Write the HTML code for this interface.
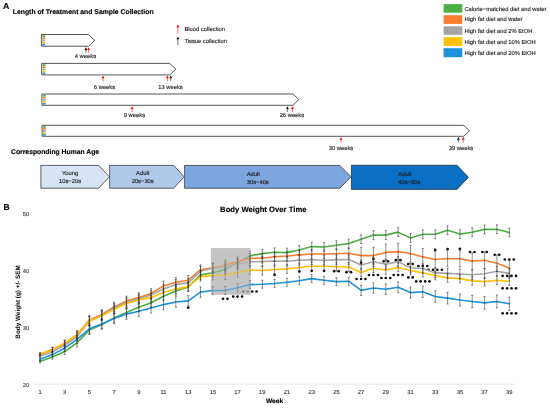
<!DOCTYPE html>
<html><head><meta charset="utf-8"><title>Figure</title>
<style>html,body{margin:0;padding:0;background:#fff;}body{width:550px;height:408px;overflow:hidden;}svg{display:block;}</style>
</head><body>
<svg width="550" height="408" viewBox="0 0 550 408" font-family='"Liberation Sans", sans-serif' text-rendering="geometricPrecision">
<rect width="550" height="408" fill="#fff"/>
<text x="3.1" y="8.6" font-size="8.8" font-weight="bold" text-anchor="start" fill="#000" stroke="#000" stroke-width="0.15" >A</text>
<text x="12.8" y="14.0" font-size="6.83" font-weight="bold" text-anchor="start" fill="#000" stroke="#000" stroke-width="0.15" >Length of Treatment and Sample Collection</text>
<text x="11" y="153.8" font-size="6.8" font-weight="bold" text-anchor="start" fill="#000" stroke="#000" stroke-width="0.15" >Corresponding Human Age</text>
<text x="3.4" y="209.6" font-size="8.6" font-weight="bold" text-anchor="start" fill="#000" stroke="#000" stroke-width="0.15" >B</text>
<text x="263.3" y="212.3" font-size="7.7" font-weight="bold" text-anchor="middle" fill="#000" stroke="#000" stroke-width="0.15" >Body Weight Over Time</text>
<rect x="443.6" y="4.1" width="18.7" height="8.6" fill="#4CAF43"/>
<text x="464.4" y="10.5" font-size="5.8" font-weight="normal" text-anchor="start" fill="#1a1a1a" stroke="#1a1a1a" stroke-width="0.13" >Calorie−matched diet and water</text>
<rect x="443.6" y="15.2" width="18.7" height="8.7" fill="#FB7D2E"/>
<text x="464.4" y="21.1" font-size="5.8" font-weight="normal" text-anchor="start" fill="#1a1a1a" stroke="#1a1a1a" stroke-width="0.13" >High fat diet and water</text>
<rect x="443.6" y="26.3" width="18.7" height="8.5" fill="#A5A5A5"/>
<text x="464.4" y="33" font-size="5.8" font-weight="normal" text-anchor="start" fill="#1a1a1a" stroke="#1a1a1a" stroke-width="0.13" >High fat diet and 2% EtOH</text>
<rect x="443.6" y="37.2" width="18.7" height="8.7" fill="#FFC000"/>
<text x="464.4" y="43.7" font-size="5.8" font-weight="normal" text-anchor="start" fill="#1a1a1a" stroke="#1a1a1a" stroke-width="0.13" >High fat diet and 10% EtOH</text>
<rect x="443.6" y="48.2" width="18.7" height="9.0" fill="#1B92DA"/>
<text x="464.4" y="54.5" font-size="5.8" font-weight="normal" text-anchor="start" fill="#1a1a1a" stroke="#1a1a1a" stroke-width="0.13" >High fat diet and 20% EtOH</text>
<line x1="177.9" y1="27.0" x2="177.9" y2="33.6" stroke="#f00" stroke-width="0.6"/>
<path d="M177.9 24.6 L179.35 27.3 L176.45000000000002 27.3 Z" fill="#f00"/>
<text x="184.4" y="31" font-size="5.8" font-weight="normal" text-anchor="start" fill="#1a1a1a" stroke="#1a1a1a" stroke-width="0.13" >Blood collection</text>
<line x1="177.9" y1="38.900000000000006" x2="177.9" y2="45.3" stroke="#111" stroke-width="0.6"/>
<path d="M177.9 36.5 L179.35 39.2 L176.45000000000002 39.2 Z" fill="#111"/>
<text x="184.4" y="42.6" font-size="5.8" font-weight="normal" text-anchor="start" fill="#1a1a1a" stroke="#1a1a1a" stroke-width="0.13" >Tissue collection</text>
<path d="M41.4 34.5 L88.6 34.5 L94.7 40.35 L88.6 46.2 L41.4 46.2 Z" fill="#fff" stroke="#2a2a2a" stroke-width="0.8" stroke-linejoin="miter"/>
<rect x="42.3" y="35.35" width="2.8" height="1.80" fill="#4CAF43"/>
<rect x="42.3" y="37.45" width="2.8" height="1.80" fill="#FB7D2E"/>
<rect x="42.3" y="39.55" width="2.8" height="1.80" fill="#A5A5A5"/>
<rect x="42.3" y="41.65" width="2.8" height="1.80" fill="#FFC000"/>
<rect x="42.3" y="43.75" width="2.8" height="1.80" fill="#1B92DA"/>
<path d="M41.7 63.4 L169.7 63.4 L175.8 69.15 L169.7 74.9 L41.7 74.9 Z" fill="#fff" stroke="#2a2a2a" stroke-width="0.8" stroke-linejoin="miter"/>
<rect x="42.6" y="64.25" width="2.8" height="1.76" fill="#4CAF43"/>
<rect x="42.6" y="66.31" width="2.8" height="1.76" fill="#FB7D2E"/>
<rect x="42.6" y="68.37" width="2.8" height="1.76" fill="#A5A5A5"/>
<rect x="42.6" y="70.43" width="2.8" height="1.76" fill="#FFC000"/>
<rect x="42.6" y="72.49" width="2.8" height="1.76" fill="#1B92DA"/>
<path d="M41.9 94.0 L293 94.0 L298.9 99.65 L293 105.3 L41.9 105.3 Z" fill="#fff" stroke="#2a2a2a" stroke-width="0.8" stroke-linejoin="miter"/>
<rect x="42.8" y="94.85" width="2.8" height="1.72" fill="#4CAF43"/>
<rect x="42.8" y="96.87" width="2.8" height="1.72" fill="#FB7D2E"/>
<rect x="42.8" y="98.89" width="2.8" height="1.72" fill="#A5A5A5"/>
<rect x="42.8" y="100.91" width="2.8" height="1.72" fill="#FFC000"/>
<rect x="42.8" y="102.93" width="2.8" height="1.72" fill="#1B92DA"/>
<path d="M42.1 125.3 L463.8 125.3 L469.5 130.8 L463.8 136.3 L42.1 136.3 Z" fill="#fff" stroke="#2a2a2a" stroke-width="0.8" stroke-linejoin="miter"/>
<rect x="43.0" y="126.15" width="2.8" height="1.66" fill="#4CAF43"/>
<rect x="43.0" y="128.11" width="2.8" height="1.66" fill="#FB7D2E"/>
<rect x="43.0" y="130.07" width="2.8" height="1.66" fill="#A5A5A5"/>
<rect x="43.0" y="132.03" width="2.8" height="1.66" fill="#FFC000"/>
<rect x="43.0" y="133.99" width="2.8" height="1.66" fill="#1B92DA"/>
<line x1="85.9" y1="49.60000000000001" x2="85.9" y2="52.800000000000004" stroke="#111" stroke-width="0.6"/>
<path d="M85.9 47.2 L87.35000000000001 49.900000000000006 L84.45 49.900000000000006 Z" fill="#111"/>
<line x1="88.7" y1="49.60000000000001" x2="88.7" y2="52.800000000000004" stroke="#f00" stroke-width="0.6"/>
<path d="M88.7 47.2 L90.15 49.900000000000006 L87.25 49.900000000000006 Z" fill="#f00"/>
<text x="85.4" y="58" font-size="5.8" font-weight="normal" text-anchor="middle" fill="#1a1a1a" stroke="#1a1a1a" stroke-width="0.13" >4 weeks</text>
<line x1="103" y1="78.0" x2="103" y2="81.19999999999999" stroke="#f00" stroke-width="0.6"/>
<path d="M103 75.6 L104.45 78.3 L101.55 78.3 Z" fill="#f00"/>
<text x="104.5" y="88.6" font-size="5.8" font-weight="normal" text-anchor="middle" fill="#1a1a1a" stroke="#1a1a1a" stroke-width="0.13" >6 weeks</text>
<line x1="167.4" y1="78.0" x2="167.4" y2="81.19999999999999" stroke="#f00" stroke-width="0.6"/>
<path d="M167.4 75.6 L168.85 78.3 L165.95000000000002 78.3 Z" fill="#f00"/>
<line x1="170.7" y1="78.0" x2="170.7" y2="81.19999999999999" stroke="#111" stroke-width="0.6"/>
<path d="M170.7 75.6 L172.14999999999998 78.3 L169.25 78.3 Z" fill="#111"/>
<text x="170.5" y="88.8" font-size="5.8" font-weight="normal" text-anchor="middle" fill="#1a1a1a" stroke="#1a1a1a" stroke-width="0.13" >13 weeks</text>
<line x1="132.1" y1="108.7" x2="132.1" y2="111.89999999999999" stroke="#f00" stroke-width="0.6"/>
<path d="M132.1 106.3 L133.54999999999998 109.0 L130.65 109.0 Z" fill="#f00"/>
<text x="134.4" y="116.9" font-size="5.8" font-weight="normal" text-anchor="middle" fill="#1a1a1a" stroke="#1a1a1a" stroke-width="0.13" >9 weeks</text>
<line x1="287.4" y1="108.7" x2="287.4" y2="111.89999999999999" stroke="#111" stroke-width="0.6"/>
<path d="M287.4 106.3 L288.84999999999997 109.0 L285.95 109.0 Z" fill="#111"/>
<line x1="292.5" y1="108.7" x2="292.5" y2="111.89999999999999" stroke="#f00" stroke-width="0.6"/>
<path d="M292.5 106.3 L293.95 109.0 L291.05 109.0 Z" fill="#f00"/>
<text x="291.9" y="116.8" font-size="5.8" font-weight="normal" text-anchor="middle" fill="#1a1a1a" stroke="#1a1a1a" stroke-width="0.13" >26 weeks</text>
<line x1="341" y1="139.39999999999998" x2="341" y2="142.6" stroke="#f00" stroke-width="0.6"/>
<path d="M341 137 L342.45 139.7 L339.55 139.7 Z" fill="#f00"/>
<text x="341" y="150.2" font-size="5.8" font-weight="normal" text-anchor="middle" fill="#1a1a1a" stroke="#1a1a1a" stroke-width="0.13" >30 weeks</text>
<line x1="458.4" y1="139.39999999999998" x2="458.4" y2="142.6" stroke="#111" stroke-width="0.6"/>
<path d="M458.4 137 L459.84999999999997 139.7 L456.95 139.7 Z" fill="#111"/>
<line x1="463.3" y1="139.39999999999998" x2="463.3" y2="142.6" stroke="#f00" stroke-width="0.6"/>
<path d="M463.3 137 L464.75 139.7 L461.85 139.7 Z" fill="#f00"/>
<text x="461" y="150.2" font-size="5.8" font-weight="normal" text-anchor="middle" fill="#1a1a1a" stroke="#1a1a1a" stroke-width="0.13" >39 weeks</text>
<path d="M40.9 165.4 L98.7 165.4 L109.4 176.8 L98.7 188.2 L40.9 188.2 Z" fill="#D6E4F5" stroke="#222" stroke-width="0.7"/>
<path d="M109.7 165.4 L173.8 165.4 L184.1 176.8 L173.8 188.2 L109.7 188.2 Z" fill="#B0C9EA" stroke="#222" stroke-width="0.7"/>
<path d="M184.6 165.4 L339.8 165.4 L351.1 176.8 L339.8 188.2 L184.6 188.2 Z" fill="#7EA6DE" stroke="#222" stroke-width="0.7"/>
<path d="M351.4 165.2 L457 165.2 L468.5 177.3 L457 189.4 L351.4 189.4 Z" fill="#0B6FC4" stroke="#222" stroke-width="0.7"/>
<text x="70" y="175.4" font-size="5.8" font-weight="normal" text-anchor="middle" fill="#1a1a1a" stroke="#1a1a1a" stroke-width="0.13" >Young</text>
<text x="70" y="182.6" font-size="5.8" font-weight="normal" text-anchor="middle" fill="#1a1a1a" stroke="#1a1a1a" stroke-width="0.13" >10s−20s</text>
<text x="142.7" y="175.4" font-size="5.8" font-weight="normal" text-anchor="middle" fill="#1a1a1a" stroke="#1a1a1a" stroke-width="0.13" >Adult</text>
<text x="142.7" y="182.6" font-size="5.8" font-weight="normal" text-anchor="middle" fill="#1a1a1a" stroke="#1a1a1a" stroke-width="0.13" >20s−30s</text>
<text x="246.7" y="176.4" font-size="5.8" font-weight="normal" text-anchor="start" fill="#1a1a1a" stroke="#1a1a1a" stroke-width="0.13" >Adult</text>
<text x="246.7" y="183.8" font-size="5.8" font-weight="normal" text-anchor="start" fill="#1a1a1a" stroke="#1a1a1a" stroke-width="0.13" >30s−40s</text>
<text x="398.3" y="176.4" font-size="5.8" font-weight="normal" text-anchor="start" fill="#1a1a1a" stroke="#1a1a1a" stroke-width="0.13" >Adult</text>
<text x="398.3" y="183.8" font-size="5.8" font-weight="normal" text-anchor="start" fill="#1a1a1a" stroke="#1a1a1a" stroke-width="0.13" >40s−50s</text>
<line x1="34.6" y1="384.2" x2="514.8" y2="384.2" stroke="#d9d9d9" stroke-width="0.6"/>
<text x="29.3" y="215.79999999999998" font-size="5.8" font-weight="normal" text-anchor="end" fill="#444" stroke="#444" stroke-width="0.13" >50</text>
<text x="29.3" y="272.90000000000003" font-size="5.8" font-weight="normal" text-anchor="end" fill="#444" stroke="#444" stroke-width="0.13" >40</text>
<text x="29.3" y="329.70000000000005" font-size="5.8" font-weight="normal" text-anchor="end" fill="#444" stroke="#444" stroke-width="0.13" >30</text>
<text x="29.3" y="386.8" font-size="5.8" font-weight="normal" text-anchor="end" fill="#444" stroke="#444" stroke-width="0.13" >20</text>
<text x="40.0" y="394.0" font-size="5.8" font-weight="normal" text-anchor="middle" fill="#444" stroke="#444" stroke-width="0.13" >1</text>
<text x="64.7" y="394.0" font-size="5.8" font-weight="normal" text-anchor="middle" fill="#444" stroke="#444" stroke-width="0.13" >3</text>
<text x="89.4" y="394.0" font-size="5.8" font-weight="normal" text-anchor="middle" fill="#444" stroke="#444" stroke-width="0.13" >5</text>
<text x="114.1" y="394.0" font-size="5.8" font-weight="normal" text-anchor="middle" fill="#444" stroke="#444" stroke-width="0.13" >7</text>
<text x="138.8" y="394.0" font-size="5.8" font-weight="normal" text-anchor="middle" fill="#444" stroke="#444" stroke-width="0.13" >9</text>
<text x="163.5" y="394.0" font-size="5.8" font-weight="normal" text-anchor="middle" fill="#444" stroke="#444" stroke-width="0.13" >11</text>
<text x="188.2" y="394.0" font-size="5.8" font-weight="normal" text-anchor="middle" fill="#444" stroke="#444" stroke-width="0.13" >13</text>
<text x="212.9" y="394.0" font-size="5.8" font-weight="normal" text-anchor="middle" fill="#444" stroke="#444" stroke-width="0.13" >15</text>
<text x="237.6" y="394.0" font-size="5.8" font-weight="normal" text-anchor="middle" fill="#444" stroke="#444" stroke-width="0.13" >17</text>
<text x="262.29999999999995" y="394.0" font-size="5.8" font-weight="normal" text-anchor="middle" fill="#444" stroke="#444" stroke-width="0.13" >19</text>
<text x="287.0" y="394.0" font-size="5.8" font-weight="normal" text-anchor="middle" fill="#444" stroke="#444" stroke-width="0.13" >21</text>
<text x="311.7" y="394.0" font-size="5.8" font-weight="normal" text-anchor="middle" fill="#444" stroke="#444" stroke-width="0.13" >23</text>
<text x="336.4" y="394.0" font-size="5.8" font-weight="normal" text-anchor="middle" fill="#444" stroke="#444" stroke-width="0.13" >25</text>
<text x="361.09999999999997" y="394.0" font-size="5.8" font-weight="normal" text-anchor="middle" fill="#444" stroke="#444" stroke-width="0.13" >27</text>
<text x="385.8" y="394.0" font-size="5.8" font-weight="normal" text-anchor="middle" fill="#444" stroke="#444" stroke-width="0.13" >29</text>
<text x="410.5" y="394.0" font-size="5.8" font-weight="normal" text-anchor="middle" fill="#444" stroke="#444" stroke-width="0.13" >31</text>
<text x="435.2" y="394.0" font-size="5.8" font-weight="normal" text-anchor="middle" fill="#444" stroke="#444" stroke-width="0.13" >33</text>
<text x="459.9" y="394.0" font-size="5.8" font-weight="normal" text-anchor="middle" fill="#444" stroke="#444" stroke-width="0.13" >35</text>
<text x="484.59999999999997" y="394.0" font-size="5.8" font-weight="normal" text-anchor="middle" fill="#444" stroke="#444" stroke-width="0.13" >37</text>
<text x="509.3" y="394.0" font-size="5.8" font-weight="normal" text-anchor="middle" fill="#444" stroke="#444" stroke-width="0.13" >39</text>
<text x="274.5" y="403.0" font-size="6.6" font-weight="bold" text-anchor="middle" fill="#000" stroke="#000" stroke-width="0.15" >Week</text>
<text transform="translate(19.6,338.7) rotate(-90)" font-size="6.37" font-weight="bold" fill="#000">Body Weight (g) +/- SEM</text>
<circle cx="188.2" cy="307.7" r="1.35" fill="#111"/>
<circle cx="223.0" cy="298.8" r="1.35" fill="#111"/>
<circle cx="227.5" cy="298.8" r="1.35" fill="#111"/>
<circle cx="233.2" cy="296.6" r="1.35" fill="#111"/>
<circle cx="237.6" cy="296.6" r="1.35" fill="#111"/>
<circle cx="242.1" cy="296.6" r="1.35" fill="#111"/>
<circle cx="243.3" cy="291.5" r="1.35" fill="#111"/>
<circle cx="247.7" cy="291.5" r="1.35" fill="#111"/>
<circle cx="252.2" cy="291.5" r="1.35" fill="#111"/>
<circle cx="256.6" cy="291.5" r="1.35" fill="#111"/>
<circle cx="274.6" cy="274.9" r="1.35" fill="#111"/>
<circle cx="299.3" cy="271.4" r="1.35" fill="#111"/>
<circle cx="311.7" cy="270.8" r="1.35" fill="#111"/>
<circle cx="324.1" cy="270.8" r="1.35" fill="#111"/>
<circle cx="334.2" cy="271.2" r="1.35" fill="#111"/>
<circle cx="338.6" cy="271.2" r="1.35" fill="#111"/>
<circle cx="346.5" cy="272.2" r="1.35" fill="#111"/>
<circle cx="351.0" cy="272.2" r="1.35" fill="#111"/>
<circle cx="356.6" cy="279" r="1.35" fill="#111"/>
<circle cx="361.1" cy="279" r="1.35" fill="#111"/>
<circle cx="365.5" cy="279" r="1.35" fill="#111"/>
<circle cx="361.1" cy="262.7" r="1.35" fill="#111"/>
<circle cx="369.0" cy="275" r="1.35" fill="#111"/>
<circle cx="373.4" cy="275" r="1.35" fill="#111"/>
<circle cx="377.9" cy="275" r="1.35" fill="#111"/>
<circle cx="373.4" cy="258.9" r="1.35" fill="#111"/>
<circle cx="381.4" cy="278" r="1.35" fill="#111"/>
<circle cx="385.8" cy="278" r="1.35" fill="#111"/>
<circle cx="390.2" cy="278" r="1.35" fill="#111"/>
<circle cx="383.6" cy="261.3" r="1.35" fill="#111"/>
<circle cx="388.0" cy="261.3" r="1.35" fill="#111"/>
<circle cx="393.7" cy="275" r="1.35" fill="#111"/>
<circle cx="398.1" cy="275" r="1.35" fill="#111"/>
<circle cx="402.6" cy="275" r="1.35" fill="#111"/>
<circle cx="395.9" cy="260.2" r="1.35" fill="#111"/>
<circle cx="400.4" cy="260.2" r="1.35" fill="#111"/>
<circle cx="408.3" cy="277.4" r="1.35" fill="#111"/>
<circle cx="412.7" cy="277.4" r="1.35" fill="#111"/>
<circle cx="408.3" cy="264" r="1.35" fill="#111"/>
<circle cx="412.7" cy="264" r="1.35" fill="#111"/>
<circle cx="416.2" cy="281.4" r="1.35" fill="#111"/>
<circle cx="420.6" cy="281.4" r="1.35" fill="#111"/>
<circle cx="425.1" cy="281.4" r="1.35" fill="#111"/>
<circle cx="429.5" cy="281.4" r="1.35" fill="#111"/>
<circle cx="418.4" cy="266" r="1.35" fill="#111"/>
<circle cx="422.8" cy="266" r="1.35" fill="#111"/>
<circle cx="427.3" cy="266" r="1.35" fill="#111"/>
<circle cx="428.5" cy="269.8" r="1.35" fill="#111"/>
<circle cx="433.0" cy="269.8" r="1.35" fill="#111"/>
<circle cx="437.4" cy="269.8" r="1.35" fill="#111"/>
<circle cx="441.9" cy="269.8" r="1.35" fill="#111"/>
<circle cx="435.2" cy="249.9" r="1.35" fill="#111"/>
<circle cx="447.6" cy="249" r="1.35" fill="#111"/>
<circle cx="459.9" cy="248.8" r="1.35" fill="#111"/>
<circle cx="470.0" cy="252" r="1.35" fill="#111"/>
<circle cx="474.5" cy="252" r="1.35" fill="#111"/>
<circle cx="482.4" cy="252" r="1.35" fill="#111"/>
<circle cx="486.8" cy="252" r="1.35" fill="#111"/>
<circle cx="494.7" cy="254.8" r="1.35" fill="#111"/>
<circle cx="499.2" cy="254.8" r="1.35" fill="#111"/>
<circle cx="504.9" cy="259.5" r="1.35" fill="#111"/>
<circle cx="509.3" cy="259.5" r="1.35" fill="#111"/>
<circle cx="513.8" cy="259.5" r="1.35" fill="#111"/>
<circle cx="502.6" cy="275.9" r="1.35" fill="#111"/>
<circle cx="507.1" cy="275.9" r="1.35" fill="#111"/>
<circle cx="511.5" cy="275.9" r="1.35" fill="#111"/>
<circle cx="516.0" cy="275.9" r="1.35" fill="#111"/>
<circle cx="502.6" cy="288.3" r="1.35" fill="#111"/>
<circle cx="507.1" cy="288.3" r="1.35" fill="#111"/>
<circle cx="511.5" cy="288.3" r="1.35" fill="#111"/>
<circle cx="516.0" cy="288.3" r="1.35" fill="#111"/>
<circle cx="502.6" cy="313.3" r="1.35" fill="#111"/>
<circle cx="507.1" cy="313.3" r="1.35" fill="#111"/>
<circle cx="511.5" cy="313.3" r="1.35" fill="#111"/>
<circle cx="516.0" cy="313.3" r="1.35" fill="#111"/>
<rect x="210.9" y="248.1" width="39.7" height="46.6" fill="#9b9b9b" fill-opacity="0.578"/>
<polyline points="40.0,361.5 52.4,357 64.7,351.6 77.0,343 89.4,329.9 101.8,324.5 114.1,317.9 126.5,312.6 138.8,307.2 151.1,302.8 163.5,296.3 175.8,290.9 188.2,286.9 200.5,274.9 212.9,272.7 225.2,269.4 237.6,262.8 249.9,255.9 262.3,253.6 274.6,252.3 287.0,252.6 299.3,250 311.7,246.6 324.1,247 336.4,245.2 348.8,243.6 361.1,239.2 373.4,235.1 385.8,235.1 398.1,232.1 410.5,238 422.8,234.3 435.2,234.3 447.6,230.3 459.9,234.1 472.2,232.2 484.6,229.4 496.9,229.2 509.3,232.4" fill="none" stroke="#4CAF43" stroke-width="1.6" stroke-linejoin="round" stroke-linecap="round"/>
<polyline points="40.0,354.6 52.4,349.8 64.7,343.5 77.0,334.7 89.4,320 101.8,314.5 114.1,306.9 126.5,301 138.8,297.6 151.1,293.5 163.5,285.9 175.8,282.2 188.2,280.3 200.5,269.7 212.9,267.7 225.2,265 237.6,261.8 249.9,258.4 262.3,258.2 274.6,256.8 287.0,256 299.3,254.9 311.7,254 324.1,254 336.4,253.7 348.8,253.2 361.1,255.6 373.4,255.6 385.8,252.4 398.1,251.6 410.5,253.5 422.8,256.9 435.2,259.5 447.6,258.5 459.9,258.7 472.2,261.1 484.6,260.2 496.9,263.2 509.3,268.1" fill="none" stroke="#FB7D2E" stroke-width="1.6" stroke-linejoin="round" stroke-linecap="round"/>
<polyline points="40.0,356 52.4,351.9 64.7,345.3 77.0,336.5 89.4,321.3 101.8,315.2 114.1,308 126.5,302.4 138.8,298.8 151.1,295.1 163.5,289 175.8,284.4 188.2,282.9 200.5,271.2 212.9,268.3 225.2,267.1 237.6,264.3 249.9,261.8 262.3,261.5 274.6,261.1 287.0,261.2 299.3,260.2 311.7,259.7 324.1,260.2 336.4,259.9 348.8,259.5 361.1,264.9 373.4,261.7 385.8,264.2 398.1,261.6 410.5,267.8 422.8,268.5 435.2,272.9 447.6,273.4 459.9,274 472.2,274.8 484.6,273.7 496.9,271.2 509.3,273.4" fill="none" stroke="#A5A5A5" stroke-width="1.6" stroke-linejoin="round" stroke-linecap="round"/>
<polyline points="40.0,354.1 52.4,349.4 64.7,343 77.0,335 89.4,321 101.8,315.7 114.1,309.4 126.5,303.5 138.8,299.9 151.1,297.4 163.5,292.6 175.8,289.1 188.2,286.6 200.5,276.6 212.9,275.4 225.2,275 237.6,272.6 249.9,270.1 262.3,270.5 274.6,269.5 287.0,268.9 299.3,267.5 311.7,266.2 324.1,266.3 336.4,266.7 348.8,267 361.1,272.4 373.4,268.3 385.8,270 398.1,267.4 410.5,270.6 422.8,272.7 435.2,275.5 447.6,277.9 459.9,278.6 472.2,280.9 484.6,281.6 496.9,280.2 509.3,281.2" fill="none" stroke="#FFC000" stroke-width="1.6" stroke-linejoin="round" stroke-linecap="round"/>
<polyline points="40.0,359.3 52.4,354.6 64.7,348.2 77.0,339.4 89.4,328.8 101.8,323.9 114.1,318.5 126.5,314.1 138.8,311.2 151.1,307.9 163.5,304.6 175.8,302 188.2,300.9 200.5,292.1 212.9,290.5 225.2,290.5 237.6,287.8 249.9,284.6 262.3,284.2 274.6,283.5 287.0,282.3 299.3,280.7 311.7,278.6 324.1,280.3 336.4,281.6 348.8,281.2 361.1,290.4 373.4,288 385.8,289.2 398.1,287.3 410.5,292.6 422.8,291.8 435.2,296.5 447.6,298.1 459.9,300 472.2,301.5 484.6,302.9 496.9,301.5 509.3,303.8" fill="none" stroke="#1B92DA" stroke-width="1.6" stroke-linejoin="round" stroke-linecap="round"/>
<path d="M40.0 360.0V363.0M38.9 360.0h2.2M38.9 363.0h2.2M52.4 354.8V359.2M51.2 354.8h2.2M51.2 359.2h2.2M64.7 348.6V354.6M63.6 348.6h2.2M63.6 354.6h2.2M77.0 339.0V347.0M76.0 339.0h2.2M76.0 347.0h2.2M89.4 325.5V334.3M88.3 325.5h2.2M88.3 334.3h2.2M101.8 320.1V328.9M100.7 320.1h2.2M100.7 328.9h2.2M114.1 313.5V322.3M113.0 313.5h2.2M113.0 322.3h2.2M126.5 308.2V317.0M125.4 308.2h2.2M125.4 317.0h2.2M138.8 302.8V311.6M137.7 302.8h2.2M137.7 311.6h2.2M151.1 298.4V307.2M150.0 298.4h2.2M150.0 307.2h2.2M163.5 291.9V300.7M162.4 291.9h2.2M162.4 300.7h2.2M175.8 286.5V295.3M174.8 286.5h2.2M174.8 295.3h2.2M188.2 282.5V291.3M187.1 282.5h2.2M187.1 291.3h2.2M200.5 270.5V279.3M199.4 270.5h2.2M199.4 279.3h2.2M212.9 268.3V277.1M211.8 268.3h2.2M211.8 277.1h2.2M225.2 265.0V273.8M224.2 265.0h2.2M224.2 273.8h2.2M237.6 258.4V267.2M236.5 258.4h2.2M236.5 267.2h2.2M249.9 251.5V260.3M248.8 251.5h2.2M248.8 260.3h2.2M262.3 249.2V258.0M261.2 249.2h2.2M261.2 258.0h2.2M274.6 247.9V256.7M273.5 247.9h2.2M273.5 256.7h2.2M287.0 248.2V257.0M285.9 248.2h2.2M285.9 257.0h2.2M299.3 245.6V254.4M298.2 245.6h2.2M298.2 254.4h2.2M311.7 242.2V251.0M310.6 242.2h2.2M310.6 251.0h2.2M324.1 242.6V251.4M322.9 242.6h2.2M322.9 251.4h2.2M336.4 240.8V249.6M335.3 240.8h2.2M335.3 249.6h2.2M348.8 239.2V248.0M347.6 239.2h2.2M347.6 248.0h2.2M361.1 234.8V243.6M360.0 234.8h2.2M360.0 243.6h2.2M373.4 230.7V239.5M372.3 230.7h2.2M372.3 239.5h2.2M385.8 230.7V239.5M384.7 230.7h2.2M384.7 239.5h2.2M398.1 227.7V236.5M397.0 227.7h2.2M397.0 236.5h2.2M410.5 233.6V242.4M409.4 233.6h2.2M409.4 242.4h2.2M422.8 229.9V238.7M421.7 229.9h2.2M421.7 238.7h2.2M435.2 229.9V238.7M434.1 229.9h2.2M434.1 238.7h2.2M447.6 225.9V234.7M446.4 225.9h2.2M446.4 234.7h2.2M459.9 229.7V238.5M458.8 229.7h2.2M458.8 238.5h2.2M472.2 227.8V236.6M471.1 227.8h2.2M471.1 236.6h2.2M484.6 225.0V233.8M483.5 225.0h2.2M483.5 233.8h2.2M496.9 224.8V233.6M495.8 224.8h2.2M495.8 233.6h2.2M509.3 228.0V236.8M508.2 228.0h2.2M508.2 236.8h2.2M40.0 353.1V356.1M38.9 353.1h2.2M38.9 356.1h2.2M52.4 347.6V352.0M51.2 347.6h2.2M51.2 352.0h2.2M64.7 340.5V346.5M63.6 340.5h2.2M63.6 346.5h2.2M77.0 330.7V338.7M76.0 330.7h2.2M76.0 338.7h2.2M89.4 315.2V324.8M88.3 315.2h2.2M88.3 324.8h2.2M101.8 309.7V319.3M100.7 309.7h2.2M100.7 319.3h2.2M114.1 302.1V311.7M113.0 302.1h2.2M113.0 311.7h2.2M126.5 296.2V305.8M125.4 296.2h2.2M125.4 305.8h2.2M138.8 292.8V302.4M137.7 292.8h2.2M137.7 302.4h2.2M151.1 288.7V298.3M150.0 288.7h2.2M150.0 298.3h2.2M163.5 281.1V290.7M162.4 281.1h2.2M162.4 290.7h2.2M175.8 277.4V287.0M174.8 277.4h2.2M174.8 287.0h2.2M188.2 275.5V285.1M187.1 275.5h2.2M187.1 285.1h2.2M200.5 264.9V274.5M199.4 264.9h2.2M199.4 274.5h2.2M212.9 262.9V272.5M211.8 262.9h2.2M211.8 272.5h2.2M225.2 260.2V269.8M224.2 260.2h2.2M224.2 269.8h2.2M237.6 257.0V266.6M236.5 257.0h2.2M236.5 266.6h2.2M249.9 253.6V263.2M248.8 253.6h2.2M248.8 263.2h2.2M262.3 253.4V263.0M261.2 253.4h2.2M261.2 263.0h2.2M274.6 252.0V261.6M273.5 252.0h2.2M273.5 261.6h2.2M287.0 251.2V260.8M285.9 251.2h2.2M285.9 260.8h2.2M299.3 250.1V259.7M298.2 250.1h2.2M298.2 259.7h2.2M311.7 249.2V258.8M310.6 249.2h2.2M310.6 258.8h2.2M324.1 249.2V258.8M322.9 249.2h2.2M322.9 258.8h2.2M336.4 248.9V258.5M335.3 248.9h2.2M335.3 258.5h2.2M348.8 248.4V258.0M347.6 248.4h2.2M347.6 258.0h2.2M361.1 247.3V263.9M360.0 247.3h2.2M360.0 263.9h2.2M373.4 247.3V263.9M372.3 247.3h2.2M372.3 263.9h2.2M385.8 244.1V260.7M384.7 244.1h2.2M384.7 260.7h2.2M398.1 243.3V259.9M397.0 243.3h2.2M397.0 259.9h2.2M410.5 245.2V261.8M409.4 245.2h2.2M409.4 261.8h2.2M422.8 248.6V265.2M421.7 248.6h2.2M421.7 265.2h2.2M435.2 251.2V267.8M434.1 251.2h2.2M434.1 267.8h2.2M447.6 250.2V266.8M446.4 250.2h2.2M446.4 266.8h2.2M459.9 250.4V267.0M458.8 250.4h2.2M458.8 267.0h2.2M472.2 252.8V269.4M471.1 252.8h2.2M471.1 269.4h2.2M484.6 251.9V268.5M483.5 251.9h2.2M483.5 268.5h2.2M496.9 254.9V271.5M495.8 254.9h2.2M495.8 271.5h2.2M509.3 259.8V276.4M508.2 259.8h2.2M508.2 276.4h2.2M40.0 354.5V357.5M38.9 354.5h2.2M38.9 357.5h2.2M52.4 349.7V354.1M51.2 349.7h2.2M51.2 354.1h2.2M64.7 342.3V348.3M63.6 342.3h2.2M63.6 348.3h2.2M77.0 332.5V340.5M76.0 332.5h2.2M76.0 340.5h2.2M89.4 316.5V326.1M88.3 316.5h2.2M88.3 326.1h2.2M101.8 310.4V320.0M100.7 310.4h2.2M100.7 320.0h2.2M114.1 303.2V312.8M113.0 303.2h2.2M113.0 312.8h2.2M126.5 297.6V307.2M125.4 297.6h2.2M125.4 307.2h2.2M138.8 294.0V303.6M137.7 294.0h2.2M137.7 303.6h2.2M151.1 290.3V299.9M150.0 290.3h2.2M150.0 299.9h2.2M163.5 284.2V293.8M162.4 284.2h2.2M162.4 293.8h2.2M175.8 279.6V289.2M174.8 279.6h2.2M174.8 289.2h2.2M188.2 278.1V287.7M187.1 278.1h2.2M187.1 287.7h2.2M200.5 266.4V276.0M199.4 266.4h2.2M199.4 276.0h2.2M212.9 263.5V273.1M211.8 263.5h2.2M211.8 273.1h2.2M225.2 262.3V271.9M224.2 262.3h2.2M224.2 271.9h2.2M237.6 259.5V269.1M236.5 259.5h2.2M236.5 269.1h2.2M249.9 257.0V266.6M248.8 257.0h2.2M248.8 266.6h2.2M262.3 256.7V266.3M261.2 256.7h2.2M261.2 266.3h2.2M274.6 256.3V265.9M273.5 256.3h2.2M273.5 265.9h2.2M287.0 256.4V266.0M285.9 256.4h2.2M285.9 266.0h2.2M299.3 255.4V265.0M298.2 255.4h2.2M298.2 265.0h2.2M311.7 254.9V264.5M310.6 254.9h2.2M310.6 264.5h2.2M324.1 255.4V265.0M322.9 255.4h2.2M322.9 265.0h2.2M336.4 255.1V264.7M335.3 255.1h2.2M335.3 264.7h2.2M348.8 254.7V264.3M347.6 254.7h2.2M347.6 264.3h2.2M361.1 260.1V269.7M360.0 260.1h2.2M360.0 269.7h2.2M373.4 256.9V266.5M372.3 256.9h2.2M372.3 266.5h2.2M385.8 259.4V269.0M384.7 259.4h2.2M384.7 269.0h2.2M398.1 256.8V266.4M397.0 256.8h2.2M397.0 266.4h2.2M410.5 263.0V272.6M409.4 263.0h2.2M409.4 272.6h2.2M422.8 263.7V273.3M421.7 263.7h2.2M421.7 273.3h2.2M435.2 268.1V277.7M434.1 268.1h2.2M434.1 277.7h2.2M447.6 268.6V278.2M446.4 268.6h2.2M446.4 278.2h2.2M459.9 269.2V278.8M458.8 269.2h2.2M458.8 278.8h2.2M472.2 270.0V279.6M471.1 270.0h2.2M471.1 279.6h2.2M484.6 268.9V278.5M483.5 268.9h2.2M483.5 278.5h2.2M496.9 266.4V276.0M495.8 266.4h2.2M495.8 276.0h2.2M509.3 268.6V278.2M508.2 268.6h2.2M508.2 278.2h2.2M40.0 352.6V355.6M38.9 352.6h2.2M38.9 355.6h2.2M52.4 347.2V351.6M51.2 347.2h2.2M51.2 351.6h2.2M64.7 340.0V346.0M63.6 340.0h2.2M63.6 346.0h2.2M77.0 331.0V339.0M76.0 331.0h2.2M76.0 339.0h2.2M89.4 316.5V325.5M88.3 316.5h2.2M88.3 325.5h2.2M101.8 311.2V320.2M100.7 311.2h2.2M100.7 320.2h2.2M114.1 304.9V313.9M113.0 304.9h2.2M113.0 313.9h2.2M126.5 299.0V308.0M125.4 299.0h2.2M125.4 308.0h2.2M138.8 295.4V304.4M137.7 295.4h2.2M137.7 304.4h2.2M151.1 292.9V301.9M150.0 292.9h2.2M150.0 301.9h2.2M163.5 288.1V297.1M162.4 288.1h2.2M162.4 297.1h2.2M175.8 284.6V293.6M174.8 284.6h2.2M174.8 293.6h2.2M188.2 282.1V291.1M187.1 282.1h2.2M187.1 291.1h2.2M200.5 272.1V281.1M199.4 272.1h2.2M199.4 281.1h2.2M212.9 270.9V279.9M211.8 270.9h2.2M211.8 279.9h2.2M225.2 270.5V279.5M224.2 270.5h2.2M224.2 279.5h2.2M237.6 268.1V277.1M236.5 268.1h2.2M236.5 277.1h2.2M249.9 265.6V274.6M248.8 265.6h2.2M248.8 274.6h2.2M262.3 266.0V275.0M261.2 266.0h2.2M261.2 275.0h2.2M274.6 265.0V274.0M273.5 265.0h2.2M273.5 274.0h2.2M287.0 264.4V273.4M285.9 264.4h2.2M285.9 273.4h2.2M299.3 263.0V272.0M298.2 263.0h2.2M298.2 272.0h2.2M311.7 261.7V270.7M310.6 261.7h2.2M310.6 270.7h2.2M324.1 261.8V270.8M322.9 261.8h2.2M322.9 270.8h2.2M336.4 262.2V271.2M335.3 262.2h2.2M335.3 271.2h2.2M348.8 262.5V271.5M347.6 262.5h2.2M347.6 271.5h2.2M361.1 268.1V276.7M360.0 268.1h2.2M360.0 276.7h2.2M373.4 264.0V272.6M372.3 264.0h2.2M372.3 272.6h2.2M385.8 265.7V274.3M384.7 265.7h2.2M384.7 274.3h2.2M398.1 263.1V271.7M397.0 263.1h2.2M397.0 271.7h2.2M410.5 266.3V274.9M409.4 266.3h2.2M409.4 274.9h2.2M422.8 268.4V277.0M421.7 268.4h2.2M421.7 277.0h2.2M435.2 271.2V279.8M434.1 271.2h2.2M434.1 279.8h2.2M447.6 273.6V282.2M446.4 273.6h2.2M446.4 282.2h2.2M459.9 274.3V282.9M458.8 274.3h2.2M458.8 282.9h2.2M472.2 276.6V285.2M471.1 276.6h2.2M471.1 285.2h2.2M484.6 277.3V285.9M483.5 277.3h2.2M483.5 285.9h2.2M496.9 275.9V284.5M495.8 275.9h2.2M495.8 284.5h2.2M509.3 276.9V285.5M508.2 276.9h2.2M508.2 285.5h2.2M40.0 357.8V360.8M38.9 357.8h2.2M38.9 360.8h2.2M52.4 352.4V356.8M51.2 352.4h2.2M51.2 356.8h2.2M64.7 345.2V351.2M63.6 345.2h2.2M63.6 351.2h2.2M77.0 335.4V343.4M76.0 335.4h2.2M76.0 343.4h2.2M89.4 323.6V334.0M88.3 323.6h2.2M88.3 334.0h2.2M101.8 318.7V329.1M100.7 318.7h2.2M100.7 329.1h2.2M114.1 313.3V323.7M113.0 313.3h2.2M113.0 323.7h2.2M126.5 308.9V319.3M125.4 308.9h2.2M125.4 319.3h2.2M138.8 306.0V316.4M137.7 306.0h2.2M137.7 316.4h2.2M151.1 302.7V313.1M150.0 302.7h2.2M150.0 313.1h2.2M163.5 299.4V309.8M162.4 299.4h2.2M162.4 309.8h2.2M175.8 296.8V307.2M174.8 296.8h2.2M174.8 307.2h2.2M188.2 295.7V306.1M187.1 295.7h2.2M187.1 306.1h2.2M200.5 286.9V297.3M199.4 286.9h2.2M199.4 297.3h2.2M212.9 286.5V294.5M211.8 286.5h2.2M211.8 294.5h2.2M225.2 286.5V294.5M224.2 286.5h2.2M224.2 294.5h2.2M237.6 283.8V291.8M236.5 283.8h2.2M236.5 291.8h2.2M249.9 280.6V288.6M248.8 280.6h2.2M248.8 288.6h2.2M262.3 280.2V288.2M261.2 280.2h2.2M261.2 288.2h2.2M274.6 279.5V287.5M273.5 279.5h2.2M273.5 287.5h2.2M287.0 278.3V286.3M285.9 278.3h2.2M285.9 286.3h2.2M299.3 276.7V284.7M298.2 276.7h2.2M298.2 284.7h2.2M311.7 274.6V282.6M310.6 274.6h2.2M310.6 282.6h2.2M324.1 276.3V284.3M322.9 276.3h2.2M322.9 284.3h2.2M336.4 277.6V285.6M335.3 277.6h2.2M335.3 285.6h2.2M348.8 277.2V285.2M347.6 277.2h2.2M347.6 285.2h2.2M361.1 285.4V295.4M360.0 285.4h2.2M360.0 295.4h2.2M373.4 282.9V293.1M372.3 282.9h2.2M372.3 293.1h2.2M385.8 283.9V294.5M384.7 283.9h2.2M384.7 294.5h2.2M398.1 281.9V292.7M397.0 281.9h2.2M397.0 292.7h2.2M410.5 287.1V298.1M409.4 287.1h2.2M409.4 298.1h2.2M422.8 286.2V297.4M421.7 286.2h2.2M421.7 297.4h2.2M435.2 290.7V302.3M434.1 290.7h2.2M434.1 302.3h2.2M447.6 292.2V304.0M446.4 292.2h2.2M446.4 304.0h2.2M459.9 294.0V306.0M458.8 294.0h2.2M458.8 306.0h2.2M472.2 295.3V307.7M471.1 295.3h2.2M471.1 307.7h2.2M484.6 296.6V309.2M483.5 296.6h2.2M483.5 309.2h2.2M496.9 295.1V307.9M495.8 295.1h2.2M495.8 307.9h2.2M509.3 297.2V310.4M508.2 297.2h2.2M508.2 310.4h2.2" fill="none" stroke="#303030" stroke-width="0.55"/>
<rect x="210.9" y="248.1" width="39.7" height="46.6" fill="#c5c5c5" fill-opacity="0.424"/>
</svg>
</body></html>
